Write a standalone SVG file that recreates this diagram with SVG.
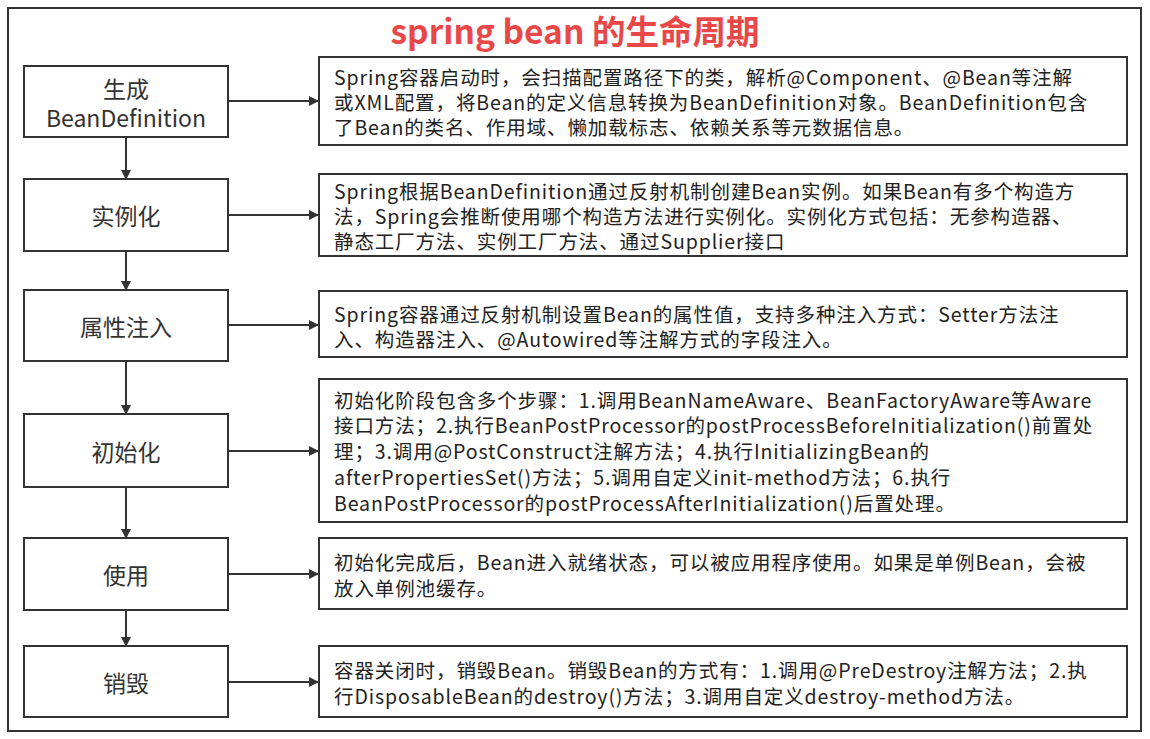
<svg xmlns="http://www.w3.org/2000/svg" width="1150" height="739" viewBox="0 0 1150 739">
<style>
.b{fill:#fff;stroke:#333;stroke-width:2}
.l{font-family:"Noto Sans CJK SC","Noto Sans",sans-serif;font-size:23px;fill:#333;text-anchor:middle;dominant-baseline:central}
.t{font-family:"Noto Sans CJK SC","Noto Sans",sans-serif;font-size:19.5px;letter-spacing:0.9px;fill:#222;dominant-baseline:central}
.c{stroke:#333;stroke-width:2;fill:none;marker-end:url(#a)}
</style>
<defs><marker id="a" markerWidth="10" markerHeight="10" refX="9" refY="5" orient="auto" markerUnits="userSpaceOnUse"><path d="M0,0 L10,5 L0,10 z" fill="#333"/></marker></defs>
<rect width="1150" height="739" fill="#fff"/>
<rect x="8" y="8" width="1133" height="723" fill="none" stroke="#333" stroke-width="2"/>
<text x="575" y="29" text-anchor="middle" dominant-baseline="central" font-family="'Noto Sans CJK SC','Noto Sans',sans-serif" font-size="33.5" font-weight="bold" fill="#e84848">spring bean 的生命周期</text>
<g id="n1"><rect class="b" x="24" y="66" width="204" height="71"/><text class="l" x="126" y="88">生成</text><text class="l" x="126" y="117">BeanDefinition</text></g>
<g id="n2"><rect class="b" x="24" y="179" width="204" height="72"/><text class="l" x="126" y="215">实例化</text></g>
<g id="n3"><rect class="b" x="24" y="290" width="204" height="71"/><text class="l" x="126" y="326">属性注入</text></g>
<g id="n4"><rect class="b" x="24" y="414" width="204" height="73"/><text class="l" x="126" y="451">初始化</text></g>
<g id="n5"><rect class="b" x="24" y="538" width="204" height="72"/><text class="l" x="126" y="574">使用</text></g>
<g id="n6"><rect class="b" x="24" y="646" width="204" height="71"/><text class="l" x="126" y="682">销毁</text></g>
<g id="d1"><rect class="b" x="319" y="57" width="808" height="88"/><text class="t" x="334" y="76">Spring容器启动时，会扫描配置路径下的类，解析@Component、@Bean等注解</text><text class="t" x="334" y="101">或XML配置，将Bean的定义信息转换为BeanDefinition对象。BeanDefinition包含</text><text class="t" x="334" y="126">了Bean的类名、作用域、懒加载标志、依赖关系等元数据信息。</text></g>
<g id="d2"><rect class="b" x="319" y="174" width="808" height="82"/><text class="t" x="334" y="190">Spring根据BeanDefinition通过反射机制创建Bean实例。如果Bean有多个构造方</text><text class="t" x="334" y="215">法，Spring会推断使用哪个构造方法进行实例化。实例化方式包括：无参构造器、</text><text class="t" x="334" y="240">静态工厂方法、实例工厂方法、通过Supplier接口</text></g>
<g id="d3"><rect class="b" x="319" y="291" width="808" height="66"/><text class="t" x="334" y="313">Spring容器通过反射机制设置Bean的属性值，支持多种注入方式：Setter方法注</text><text class="t" x="334" y="338">入、构造器注入、@Autowired等注解方式的字段注入。</text></g>
<g id="d4"><rect class="b" x="319" y="379" width="808" height="143"/><text class="t" x="334" y="399">初始化阶段包含多个步骤：1.调用BeanNameAware、BeanFactoryAware等Aware</text><text class="t" x="334" y="424">接口方法；2.执行BeanPostProcessor的postProcessBeforeInitialization()前置处</text><text class="t" x="334" y="450">理；3.调用@PostConstruct注解方法；4.执行InitializingBean的</text><text class="t" x="334" y="476">afterPropertiesSet()方法；5.调用自定义init-method方法；6.执行</text><text class="t" x="334" y="502">BeanPostProcessor的postProcessAfterInitialization()后置处理。</text></g>
<g id="d5"><rect class="b" x="319" y="538" width="808" height="71"/><text class="t" x="334" y="561">初始化完成后，Bean进入就绪状态，可以被应用程序使用。如果是单例Bean，会被</text><text class="t" x="334" y="587">放入单例池缓存。</text></g>
<g id="d6"><rect class="b" x="319" y="646" width="808" height="71"/><text class="t" x="334" y="669">容器关闭时，销毁Bean。销毁Bean的方式有：1.调用@PreDestroy注解方法；2.执</text><text class="t" x="334" y="695">行DisposableBean的destroy()方法；3.调用自定义destroy-method方法。</text></g>
<g id="connectors">
<path class="c" d="M126,137 V179"/><path class="c" d="M126,251 V290"/><path class="c" d="M126,361 V414"/><path class="c" d="M126,487 V538"/><path class="c" d="M126,610 V646"/>
<path class="c" d="M228,101 H318"/><path class="c" d="M228,215 H318"/><path class="c" d="M228,325 H318"/><path class="c" d="M228,451 H318"/><path class="c" d="M228,574 H318"/><path class="c" d="M228,682 H318"/>
</g>
</svg>
